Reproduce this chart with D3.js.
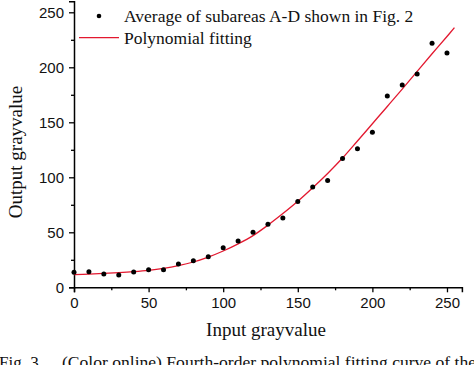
<!DOCTYPE html>
<html><head><meta charset="utf-8">
<script src="https://cdn.jsdelivr.net/npm/d3@7"></script>
<style>
html,body{margin:0;padding:0;background:#fff;overflow:hidden}
svg{display:block}
</style></head>
<body>
<script>
// data
const inputValues = [0,10,20,30,40,50,60,70,80,90,100,110,120,130,140,150,160,170,180,190,200,210,220,230,240,250];
const outputValues = [13.6,14.2,12.1,11.2,13.9,16,16,21.2,24.2,27.8,36,42.1,50,57.3,63,78,91.2,97,117.2,126,141,173.9,183.9,193.9,221.8,213];
const fitX = [0,10,20,30,40,50,60,70,80,90,100,110,120,130,140,150,160,170,180,190,200,210,220,230,240,250,255];
const fitY = [11.5,12,12.6,13.3,14.2,15.4,17.2,19.7,23,27.5,33,39.5,47,56.5,67,78.2,90.5,103.5,117.5,133,148.7,164.4,180.2,196.3,212.3,228,236];
const xTicks = [0,50,100,150,200,250];
const yTicks = [0,50,100,150,200,250];
const xMinor = [25,75,125,175,225];
const yMinor = [25,75,125,175,225];
const legendLabels = ["Average of subareas A-D shown in Fig. 2","Polynomial fitting"];
const xTitle = "Input grayvalue", yTitle = "Output grayvalue";
const captionA = "Fig. 3", captionB = "(Color online) Fourth-order polynomial fitting curve of the";

const W = 474, H = 365;
const svg = d3.select("body").append("svg").attr("width", W).attr("height", H);
const x = d3.scaleLinear().domain([0,260]).range([74,461.9]);
const y = d3.scaleLinear().domain([0,260]).range([287.3,1.3]);
const red = "#e3182f";
const sans = "'Liberation Sans', Arial, sans-serif";
const serif = "'Liberation Serif', 'Times New Roman', serif";

// axes
const xAxis = svg.append("g").attr("transform", `translate(0,${y(0)})`)
  .call(d3.axisBottom(x).tickValues(xTicks).tickSize(5).tickPadding(5).tickFormat(d3.format("d")));
const yAxis = svg.append("g").attr("transform", `translate(${x(0)},0)`)
  .call(d3.axisLeft(y).tickValues(yTicks).tickSize(5).tickPadding(5).tickFormat(d3.format("d")));
svg.append("g").attr("transform", `translate(0,${y(0)})`)
  .call(d3.axisBottom(x).tickValues(xMinor).tickSize(3).tickFormat("")).select(".domain").remove();
svg.append("g").attr("transform", `translate(${x(0)},0)`)
  .call(d3.axisLeft(y).tickValues(yMinor).tickSize(3).tickFormat("")).select(".domain").remove();
svg.selectAll(".domain").attr("stroke","#000").attr("stroke-width",1.5);
svg.selectAll(".tick line").attr("stroke","#000").attr("stroke-width",1.3);
svg.selectAll(".tick text").attr("font-family", sans).attr("font-size", 15).attr("fill","#111");

// fit curve
const line = d3.line().x((d,i)=>x(fitX[i])).y(d=>y(d)).curve(d3.curveCatmullRom);
svg.append("path").datum(fitY).attr("d", line).attr("fill","none").attr("stroke",red).attr("stroke-width",1.3);

// points
svg.selectAll("circle.pt").data(outputValues).enter().append("circle")
  .attr("class","pt").attr("cx",(d,i)=>x(inputValues[i])).attr("cy",d=>y(d)).attr("r",2.5).attr("fill","#000");

// legend
svg.append("circle").attr("cx",99).attr("cy",16).attr("r",2.3).attr("fill","#000");
svg.append("line").attr("x1",79).attr("x2",119).attr("y1",37.7).attr("y2",37.7).attr("stroke",red).attr("stroke-width",1.3);
svg.append("text").attr("x",124).attr("y",22).text(legendLabels[0])
  .attr("font-family",serif).attr("font-size",17.5).attr("fill","#111");
svg.append("text").attr("x",124).attr("y",44).text(legendLabels[1])
  .attr("font-family",serif).attr("font-size",17.5).attr("fill","#111");

// axis titles
svg.append("text").attr("x",266).attr("y",336).attr("text-anchor","middle").text(xTitle)
  .attr("font-family",serif).attr("font-size",19).attr("fill","#111");
svg.append("text").attr("transform","translate(22,152) rotate(-90)").attr("text-anchor","middle").text(yTitle)
  .attr("font-family",serif).attr("font-size",19).attr("fill","#111");

// caption (cut off at bottom)
svg.append("text").attr("x",-1).attr("y",368).text(captionA)
  .attr("font-family",serif).attr("font-size",17).attr("fill","#111");
svg.append("text").attr("x",62).attr("y",368).text(captionB)
  .attr("font-family",serif).attr("font-size",17).attr("fill","#111")
  .attr("textLength",414).attr("lengthAdjust","spacingAndGlyphs");
</script>
</body></html>
